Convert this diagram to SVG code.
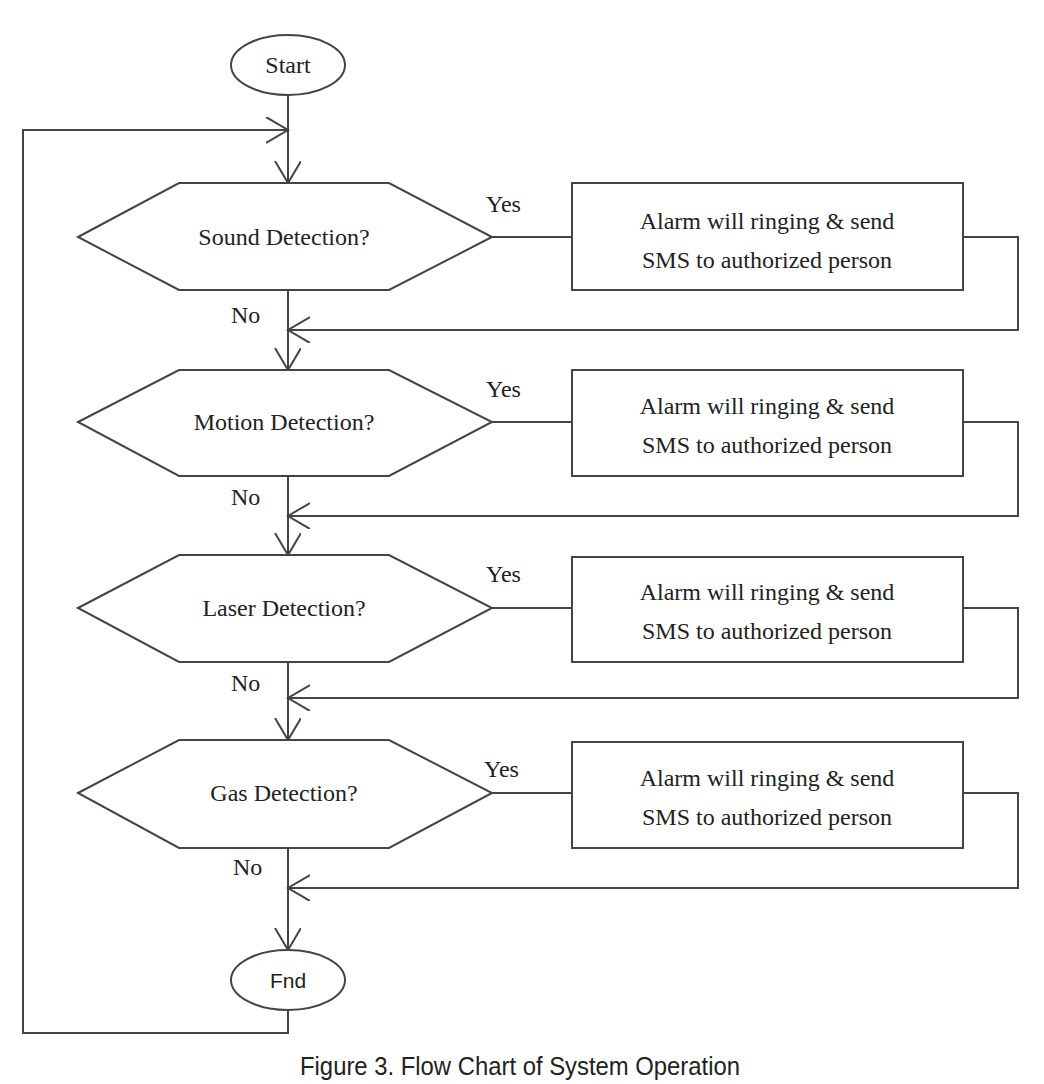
<svg xmlns="http://www.w3.org/2000/svg" width="1044" height="1084" viewBox="0 0 1044 1084">
<style>
.s{fill:#fff;stroke:#444;stroke-width:2}
.c{fill:none;stroke:#444;stroke-width:2}
.t{font-family:"Liberation Serif",serif;font-size:24px;fill:#222;text-anchor:middle}
.l{font-family:"Liberation Serif",serif;font-size:24px;fill:#222}
</style>
<defs>
<marker id="v" markerWidth="30" markerHeight="30" refX="22" refY="13" orient="auto" markerUnits="userSpaceOnUse">
<path d="M0,0 L22,13 L0,26" fill="none" stroke="#444" stroke-width="2"/>
</marker>
</defs>
<rect width="1044" height="1084" fill="#fff"/>
<g id="connectors">
<path class="c" d="M288,95 V183" marker-end="url(#v)"/>
<path class="c" d="M288,1010 V1033 H23 V130 H288" marker-end="url(#v)"/>
<path class="c" d="M288,290 V370" marker-end="url(#v)"/>
<path class="c" d="M288,476 V555" marker-end="url(#v)"/>
<path class="c" d="M288,662 V740" marker-end="url(#v)"/>
<path class="c" d="M288,848 V950" marker-end="url(#v)"/>
<path class="c" d="M492,237 H572"/><path class="c" d="M963,237 H1018 V330 H288" marker-end="url(#v)"/>
<path class="c" d="M492,422 H572"/><path class="c" d="M963,422 H1018 V516 H288" marker-end="url(#v)"/>
<path class="c" d="M492,608 H572"/><path class="c" d="M963,608 H1018 V698 H288" marker-end="url(#v)"/>
<path class="c" d="M492,793 H572"/><path class="c" d="M963,793 H1018 V888 H288" marker-end="url(#v)"/>
<text class="l" x="486" y="212">Yes</text><text class="l" x="486" y="397">Yes</text>
<text class="l" x="486" y="582">Yes</text><text class="l" x="484" y="777">Yes</text>
<text class="l" x="231" y="323">No</text><text class="l" x="231" y="505">No</text>
<text class="l" x="231" y="691">No</text><text class="l" x="233" y="875">No</text>
</g>
<g id="start"><ellipse class="s" cx="288" cy="65" rx="57" ry="30"/><text class="t" x="288" y="73">Start</text></g>
<g id="d1"><polygon class="s" points="78,237 179,183 389,183 492,237 389,290 179,290"/><text class="t" x="284" y="245">Sound Detection?</text></g>
<g id="a1"><rect class="s" x="572" y="183" width="391" height="107"/><text class="t" x="767" y="229">Alarm will ringing &amp; send</text><text class="t" x="767" y="268">SMS to authorized person</text></g>
<g id="d2"><polygon class="s" points="78,422 179,370 389,370 492,422 389,476 179,476"/><text class="t" x="284" y="430">Motion Detection?</text></g>
<g id="a2"><rect class="s" x="572" y="370" width="391" height="106"/><text class="t" x="767" y="414">Alarm will ringing &amp; send</text><text class="t" x="767" y="453">SMS to authorized person</text></g>
<g id="d3"><polygon class="s" points="78,608 179,555 389,555 492,608 389,662 179,662"/><text class="t" x="284" y="616">Laser Detection?</text></g>
<g id="a3"><rect class="s" x="572" y="557" width="391" height="105"/><text class="t" x="767" y="600">Alarm will ringing &amp; send</text><text class="t" x="767" y="639">SMS to authorized person</text></g>
<g id="d4"><polygon class="s" points="78,793 179,740 389,740 492,793 389,848 179,848"/><text class="t" x="284" y="801">Gas Detection?</text></g>
<g id="a4"><rect class="s" x="572" y="742" width="391" height="106"/><text class="t" x="767" y="786">Alarm will ringing &amp; send</text><text class="t" x="767" y="825">SMS to authorized person</text></g>
<g id="end"><ellipse class="s" cx="288" cy="980" rx="57" ry="30"/><text class="t" x="288" y="988" style="font-family:'Liberation Sans Narrow','Liberation Sans',sans-serif;font-size:21px">Fnd</text></g>
<text x="520" y="1075" style="font-family:'Liberation Sans Narrow','Liberation Sans',sans-serif;font-size:25px;fill:#222;text-anchor:middle" textLength="440" lengthAdjust="spacingAndGlyphs">Figure 3. Flow Chart of System Operation</text>
</svg>
